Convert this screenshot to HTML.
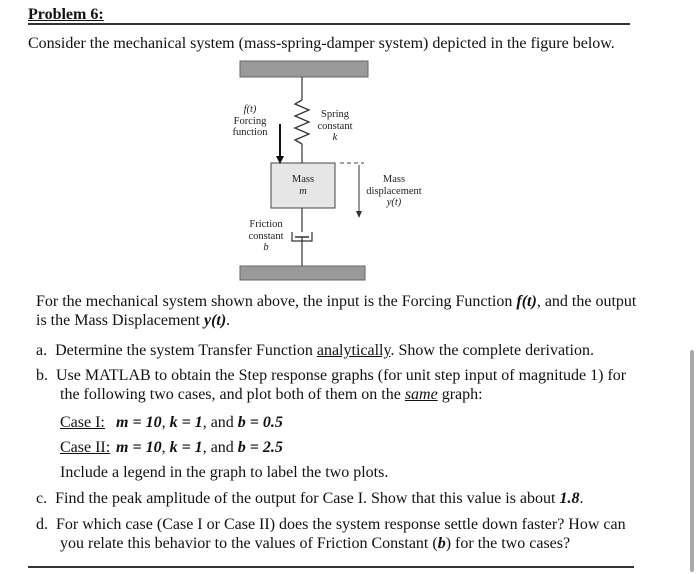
<!DOCTYPE html>
<html><head><meta charset="utf-8"><style>
body{margin:0;width:700px;height:574px;background:#fff;overflow:hidden;position:relative;font-family:"Liberation Serif",serif;color:#111}
.t{position:absolute;white-space:nowrap;font-size:16px;line-height:18px}
u{text-decoration:underline}
.d{font-family:"Liberation Serif",serif;font-size:10.5px;color:#222;position:absolute;text-align:center;line-height:11.5px;white-space:nowrap}
</style></head><body>
<div class="t" style="left:28px;top:6px;font-weight:bold;text-decoration:underline">Problem 6:</div>
<div style="position:absolute;left:28px;top:23px;width:602px;height:2px;background:#333"></div>
<div class="t" style="left:28px;top:35px">Consider the mechanical system (mass-spring-damper system) depicted in the figure below.</div>

<svg style="position:absolute;left:0;top:0" width="700" height="300">
<rect x="240" y="61" width="128" height="16" fill="#999" stroke="#666"/>
<rect x="240" y="266" width="125" height="14" fill="#999" stroke="#666"/>
<line x1="302" y1="77" x2="302" y2="100" stroke="#333" stroke-width="1.2"/>
<polyline points="302,100 295,104 309,110 295,116 309,122 295,128 309,134 295,140 302,144" fill="none" stroke="#333" stroke-width="1.3"/>
<line x1="302" y1="144" x2="302" y2="163" stroke="#333" stroke-width="1.2"/>
<rect x="271" y="163" width="64" height="45" fill="#e6e6e6" stroke="#444"/>
<line x1="302" y1="208" x2="302" y2="232" stroke="#333" stroke-width="1.2"/>
<polyline points="292,232 292,241 312,241 312,232" fill="none" stroke="#333" stroke-width="1.2"/>
<line x1="295" y1="237" x2="309" y2="237" stroke="#333" stroke-width="1.5"/>
<line x1="302" y1="237" x2="302" y2="266" stroke="#333" stroke-width="1.2"/>
<line x1="280" y1="124" x2="280" y2="157" stroke="#111" stroke-width="2"/>
<polygon points="276,156 284,156 280,164" fill="#111"/>
<line x1="340" y1="163" x2="364" y2="163" stroke="#444" stroke-dasharray="4,3"/>
<line x1="359" y1="165" x2="359" y2="212" stroke="#333"/>
<polygon points="356,211 362,211 359,218" fill="#333"/>
</svg>
<div class="d" style="left:224px;top:104px;width:52px"><i>f(t)</i><br>Forcing<br>function</div>
<div class="d" style="left:310px;top:109px;width:50px">Spring<br>constant<br><i>k</i></div>
<div class="d" style="left:276px;top:174px;width:54px">Mass<br><i>m</i></div>
<div class="d" style="left:360px;top:174px;width:68px">Mass<br>displacement<br><i>y(t)</i></div>
<div class="d" style="left:239px;top:219px;width:54px">Friction<br>constant<br><i>b</i></div>

<div class="t" style="left:36px;top:293px">For the mechanical system shown above, the input is the Forcing Function <b><i>f(t)</i></b>, and the output</div>
<div class="t" style="left:36px;top:312px">is the Mass Displacement <b><i>y(t)</i></b>.</div>
<div class="t" style="left:36px;top:342px">a.&nbsp; Determine the system Transfer Function <u>analytically</u>. Show the complete derivation.</div>
<div class="t" style="left:36px;top:367px">b.&nbsp; Use MATLAB to obtain the Step response graphs (for unit step input of magnitude 1) for</div>
<div class="t" style="left:60px;top:386px">the following two cases, and plot both of them on the <u><i>same</i></u> graph:</div>
<div class="t" style="left:60px;top:414px"><u>Case I:</u></div>
<div class="t" style="left:116px;top:414px"><b><i>m = 10</i></b>, <b><i>k = 1</i></b>, and <b><i>b = 0.5</i></b></div>
<div class="t" style="left:60px;top:439px"><u>Case II:</u></div>
<div class="t" style="left:116px;top:439px"><b><i>m = 10</i></b>, <b><i>k = 1</i></b>, and <b><i>b = 2.5</i></b></div>
<div class="t" style="left:60px;top:464px">Include a legend in the graph to label the two plots.</div>
<div class="t" style="left:36px;top:490px">c.&nbsp; Find the peak amplitude of the output for Case I. Show that this value is about <b><i>1.8</i></b>.</div>
<div class="t" style="left:36px;top:516px">d.&nbsp; For which case (Case I or Case II) does the system response settle down faster? How can</div>
<div class="t" style="left:60px;top:535px">you relate this behavior to the values of Friction Constant (<b><i>b</i></b>) for the two cases?</div>
<div style="position:absolute;left:28px;top:566px;width:606px;height:2px;background:#333"></div>
<div style="position:absolute;left:690px;top:350px;width:4px;height:222px;background:#aaa;border-radius:2px"></div>
</body></html>
